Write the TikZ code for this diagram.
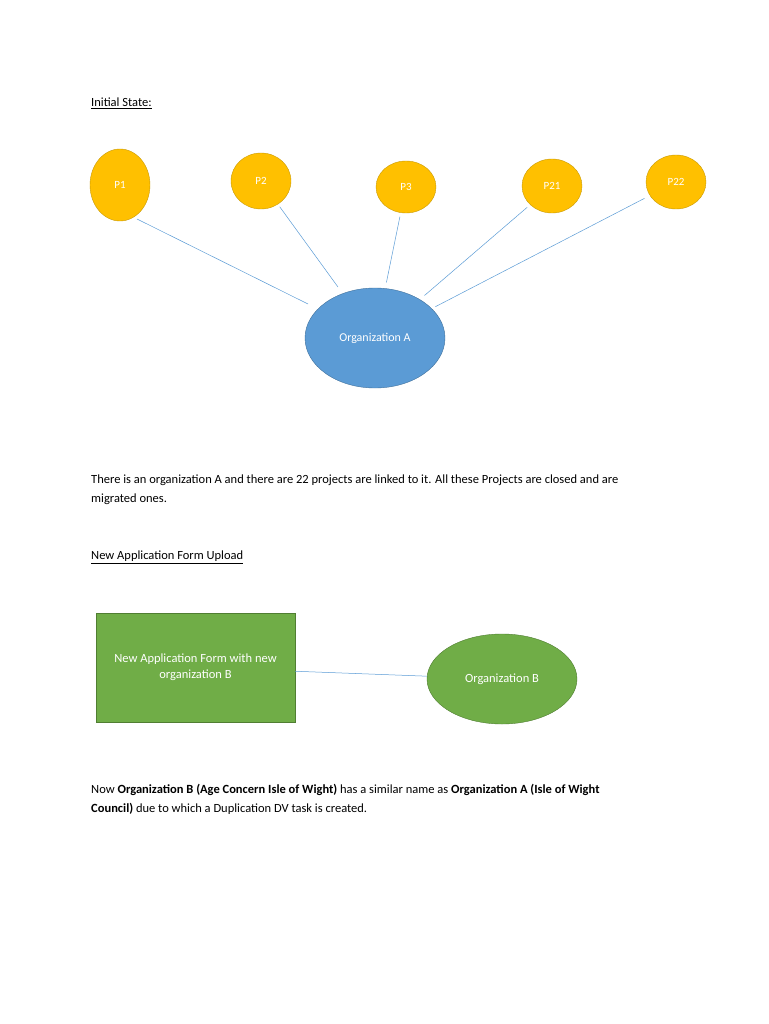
\documentclass[tikz,border=0pt]{standalone}
\usepackage{fontspec}
\setmainfont{Carlito}
\usetikzlibrary{shapes.geometric}
\definecolor{yel}{HTML}{FFC000}
\definecolor{yelb}{HTML}{C99A06}
\definecolor{blu}{HTML}{5B9BD5}
\definecolor{blub}{HTML}{41719C}
\definecolor{grn}{HTML}{70AD47}
\definecolor{grnb}{HTML}{507E32}
\tikzset{
 proj/.style={ellipse,draw=yelb,fill=yel,text=white,font=\fontsize{11}{13}\selectfont,inner sep=0pt},
 org/.style={ellipse,draw=blub,fill=blu,text=white,font=\fontsize{12}{14}\selectfont,inner sep=0pt},
 link/.style={draw=blu,line width=0.5pt},
 txt/.style={anchor=west,inner sep=0pt,font=\fontsize{12.5}{15}\selectfont}
}
\begin{document}
\begin{tikzpicture}[x=1pt,y=-1pt]
\useasboundingbox (0,0) rectangle (768,1024);
\node[txt] (t1) at (91,103) {\underline{Initial State:}};
\node[proj,minimum width=60,minimum height=72] (p1) at (120,185) {P1};
\node[proj,minimum width=60,minimum height=56] (p2) at (261,181) {P2};
\node[proj,minimum width=60,minimum height=52] (p3) at (406,187) {P3};
\node[proj,minimum width=60,minimum height=54] (p21) at (552,186) {P21};
\node[proj,minimum width=60,minimum height=54] (p22) at (676,182) {P22};
\node[org,minimum width=140,minimum height=100] (oa) at (375,338) {Organization A};
\draw[link] (p1) ++(17,34) coordinate (a1) -- ++(171,85) coordinate (b1);
\draw[link,shorten <=3pt,shorten >=8pt] (p2) -- (oa);
\draw[link,shorten <=4pt,shorten >=6pt] (p3) -- (oa);
\draw[link,shorten <=4pt,shorten >=6pt] (p21) -- (oa);
\draw[link,shorten <=6pt,shorten >=4pt] (p22) -- (oa);
\node[txt] (t2) at (91,480) {There is an organization A and there are 22 projects are linked to it. All these Projects are closed and are};
\node[txt] (t3) at (91,499) {migrated ones.};
\node[txt] (t4) at (91,557) {\underline{New Application Form Upload}};
\node[draw=grnb,fill=grn,text=white,minimum width=199,minimum height=109,align=center,font=\fontsize{12.5}{16}\selectfont] (form) at (195.5,667.5) {New Application Form with new\\organization B};
\node[ellipse,draw=grnb,fill=grn,text=white,minimum width=150,minimum height=90,inner sep=0pt,font=\fontsize{12.5}{15}\selectfont] (ob) at (502,679) {Organization B};
\draw[link] (form) -- (ob);
\node[txt] (t5) at (91,790) {Now \textbf{Organization B (Age Concern Isle of Wight)} has a similar name as \textbf{Organization A (Isle of Wight}};
\node[txt] (t6) at (91,809) {\textbf{Council)} due to which a Duplication DV task is created.};
\end{tikzpicture}
\end{document}
